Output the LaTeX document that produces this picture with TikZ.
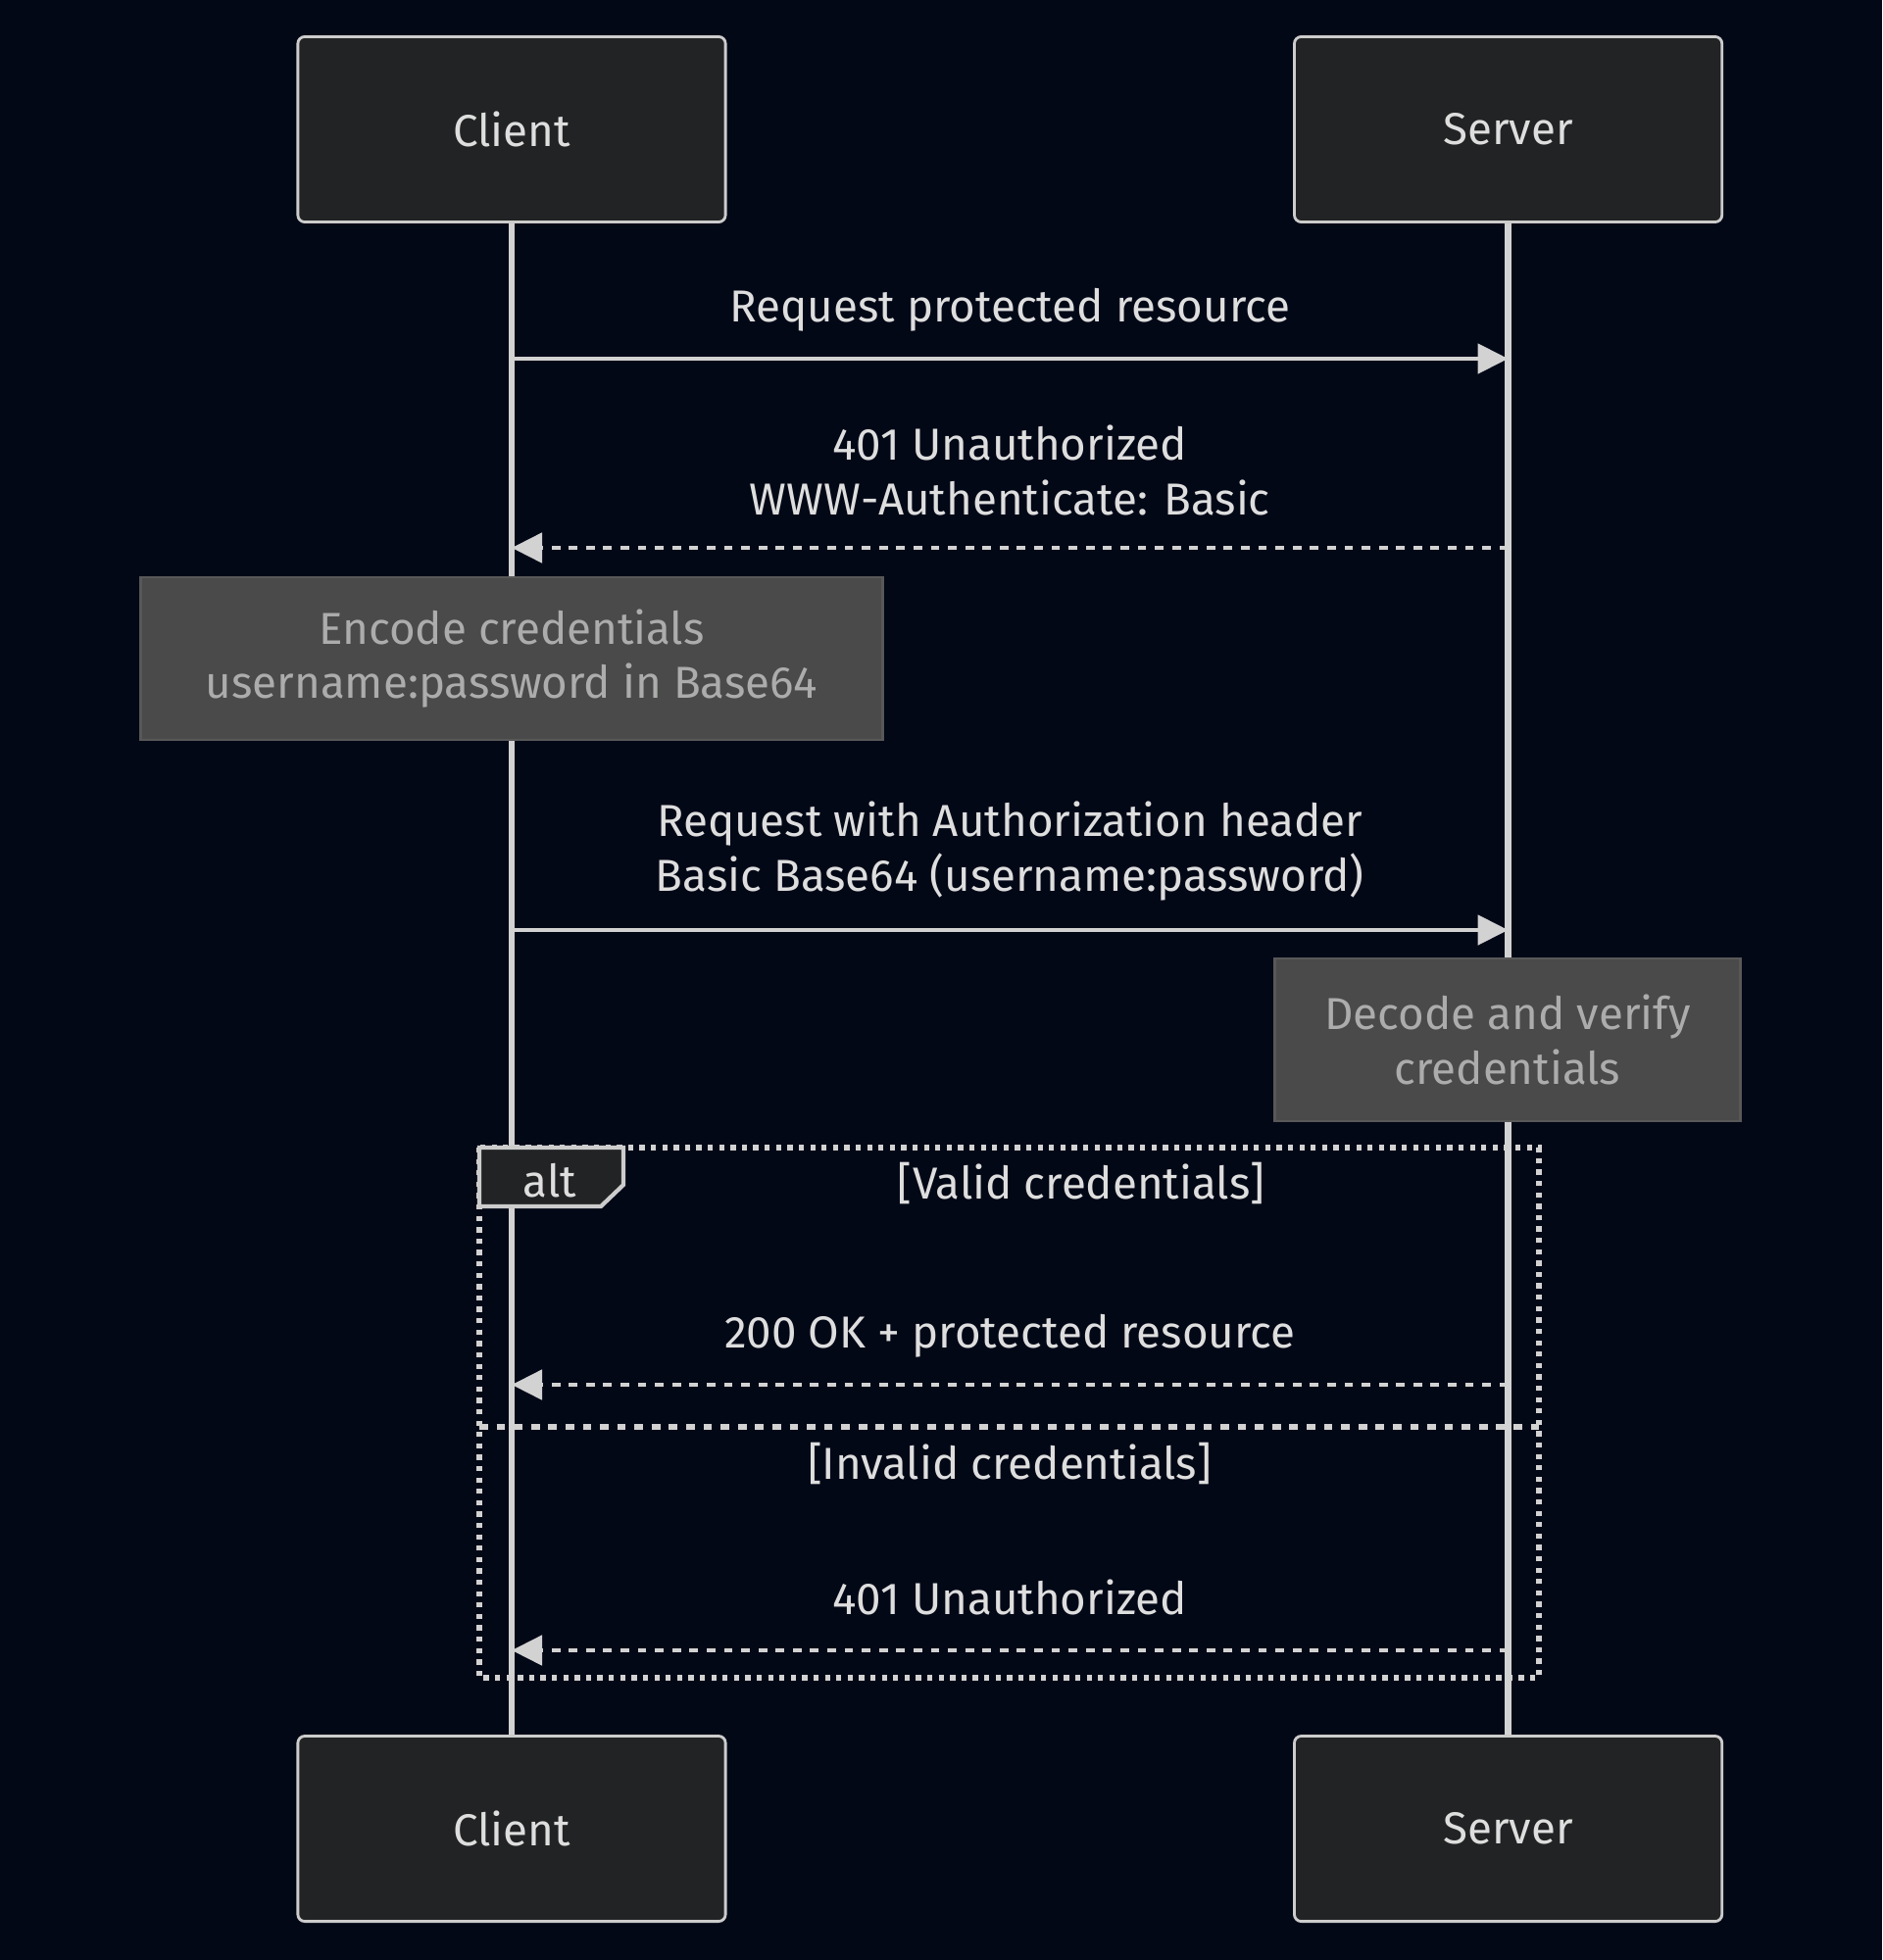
\documentclass[tikz,border=0pt]{standalone}
\usepackage{fontspec}
\setmainfont{Fira Sans}
\usetikzlibrary{arrows.meta, positioning}

\definecolor{bgc}{RGB}{3,8,23}
\definecolor{boxfill}{RGB}{34,35,36}
\definecolor{boxline}{RGB}{204,204,204}
\definecolor{linec}{RGB}{210,210,210}
\definecolor{txt}{RGB}{222,222,222}
\definecolor{notefill}{RGB}{73,74,73}
\definecolor{notebd}{RGB}{88,88,88}
\definecolor{notetxt}{RGB}{172,172,172}

\begin{document}
\begin{tikzpicture}[
  x=0.01cm, y=-0.01cm,
  font=\fontsize{13}{15.9}\selectfont,
  actor/.style={draw=boxline, fill=boxfill, rounded corners=2pt, line width=0.8pt,
    minimum width=4.36cm, minimum height=1.89cm, text=txt},
  note/.style={draw=notebd, fill=notefill, line width=0.8pt, minimum height=1.66cm,
    align=center, text=notetxt},
  lifeline/.style={linec, line width=1.9pt},
  msg/.style={linec, line width=1.4pt, -{Triangle[length=0.31cm, width=0.30cm]}},
  reply/.style={msg, dash pattern=on 2.5pt off 2.5pt},
  lbl/.style={midway, text=txt, align=center},
  frame/.style={linec, line width=1.5pt, dash pattern=on 1.5pt off 1.8pt},
  divider/.style={linec, line width=1.5pt, dash pattern=on 2.5pt off 2.5pt}
]

% Background
\fill[bgc] (0,0) rectangle (1920,2000);
\useasboundingbox (0,0) rectangle (1920,2000);

% Participants
\node[actor] (client) at (522,132) {Client};
\node[actor, right=5.772cm of client] (server) {Server};
\node[actor, below=15.412cm of client] (clientb) {Client};
\node[actor, below=15.412cm of server] (serverb) {Server};

% Lifelines
\draw[lifeline] (client) -- (clientb);
\draw[lifeline] (server) -- (serverb);

% Message points on the lifelines
\foreach \n/\y in {1/366, 2/559, 3/949, 4/1413, 5/1684} {
  \coordinate (c\n) at (client |- 0,\y);
  \coordinate (s\n) at (server |- 0,\y);
}

% Notes
\node[note, minimum width=7.57cm] (encode) at (522,672)
  {Encode credentials\\username:password in Base64};
\node[note, minimum width=4.74cm] (decode) at (1538,1061)
  {Decode and verify\\credentials};

% Arrows
\draw[msg] (c1) --
  node[lbl, yshift=0.50cm] {Request protected resource} (s1);

\draw[reply] (s2) --
  node[lbl, yshift=0.79cm] {401 Unauthorized\\WWW-Authenticate: Basic} (c2);

\draw[msg] (c3) --
  node[lbl, yshift=0.80cm] {Request with Authorization header\\Basic Base64 (username:password)} (s3);

\draw[reply] (s4) --
  node[lbl, yshift=0.50cm] {200 OK + protected resource} (c4);

\draw[reply] (s5) --
  node[lbl, yshift=0.54cm] {401 Unauthorized} (c5);

% Alt frame
\coordinate (altnw) at (489,1171);
\coordinate (altse) at (1570,1712);
\draw[frame] (altnw) rectangle (altse);
\draw[divider] (489,1456) coordinate (divw) -- (1570,1456) coordinate (dive);
\draw[draw=boxline, fill=boxfill, line width=1.2pt]
  (489,1171) -- (636,1171) -- (636,1209) -- (613,1231) -- (489,1231) -- cycle;
\node[text=txt] (alt) at (561,1205) {alt};
\node[text=txt] (valid) at (1103,1207) {[Valid credentials]};
\node[text=txt] (invalid) at (1030,1493) {[Invalid credentials]};

\end{tikzpicture}
\end{document}
